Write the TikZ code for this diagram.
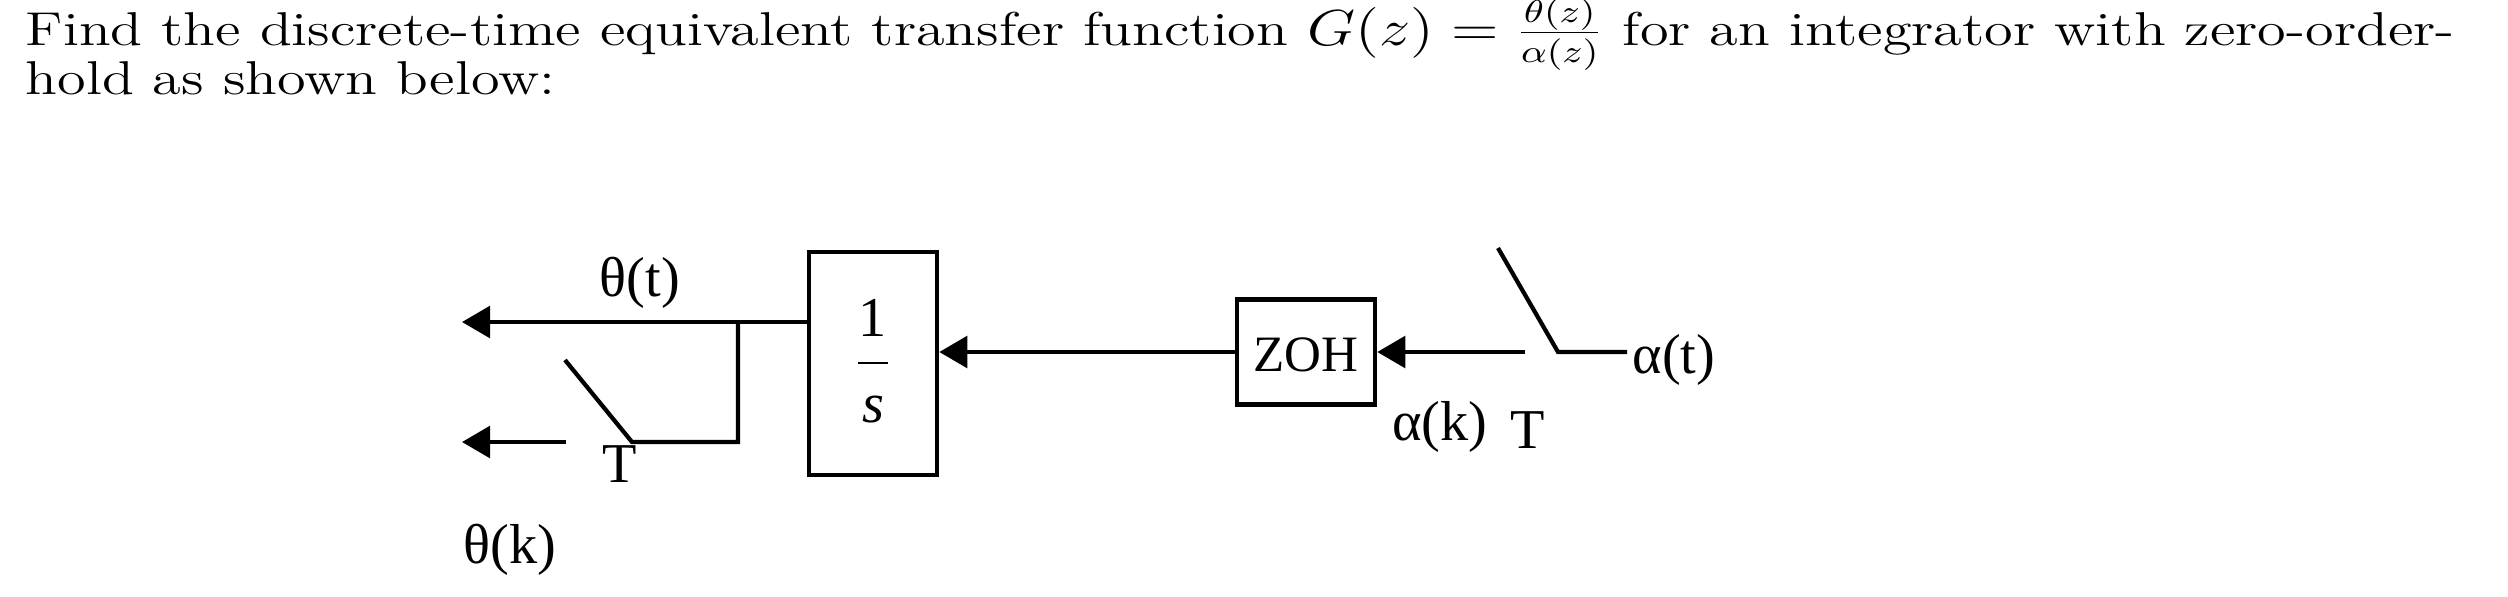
\documentclass[tikz,border=0pt]{standalone}
\usepackage{fontspec}
\newfontfamily\tms{Liberation Serif}
\usetikzlibrary{arrows.meta}
\begin{document}
\begin{tikzpicture}[x=0.01cm,y=-0.01cm,
  ln/.style={line width=1.2pt},
  ar/.style={ln,-{Triangle[length=8pt,width=9pt]}},
  blk/.style={draw,line width=1.3pt,inner sep=0pt},
  lb/.style={font=\tms\fontsize{16}{18}\selectfont,inner sep=0pt},
  txt/.style={anchor=base west,inner sep=0pt,font=\fontsize{13.5}{16}\selectfont,xscale=1.23}]
\useasboundingbox (0,0) rectangle (2508,596);
\node[txt] (l1) at (25,45) {Find the discrete-time equivalent transfer function $G(z)=\frac{\theta(z)}{\alpha(z)}$ for an integrator with zero-order-};
\node[txt] (l2) at (25,94) {hold as shown below:};
% blocks
\node[blk,minimum width=128*0.01cm,minimum height=223*0.01cm] (int) at (873,363.5) {};
\node[lb] (one) at (873,318) {1};
\node[lb,font=\tms\itshape\fontsize{16}{18}\selectfont] (s) at (873,410) {s};
\draw[line width=0.8pt] (858,363) -- (888,363);
\coordinate (intL) at (809,322);
\node[blk,minimum width=138*0.01cm,minimum height=105*0.01cm] (zoh) at (1306,352) {};
\node[lb,font=\tms\fontsize{14.5}{17}\selectfont] (zohl) at (1306,355) {ZOH};
% output side
\coordinate (j) at (738,322);
\coordinate (o1) at (462,322);
\coordinate (j2) at (738,442);
\coordinate (s1b) at (632,442);
\coordinate (s1a) at (565,360);
\coordinate (o2s) at (566,442);
\coordinate (o2) at (462,442);
\draw[ln] (intL) -- (j);
\draw[ar] (j) -- (o1);
\draw[ln] (j) -- (j2) -- (s1b) -- (s1a);
\draw[ar] (o2s) -- (o2);
\node[lb] (T1) at (620,464) {T};
\node[lb] (th) at (640,283) {θ(t)};
\node[lb] (thk) at (510,550) {θ(k)};
% input side
\draw[ar] (zoh.west) -- (int.east |- zoh.west);
\coordinate (s2o) at (1525,352);
\coordinate (s2b) at (1558,352);
\coordinate (s2a) at (1498,248);
\coordinate (ain) at (1627,352);
\draw[ar] (s2o) -- (zoh.east);
\draw[ln] (ain) -- (s2b) -- (s2a);
\node[lb,anchor=west] (at) at (1632,360) {α(t)};
\node[lb] (ak) at (1440,427) {α(k)};
\node[lb] (T2) at (1528,430) {T};
\end{tikzpicture}
\end{document}
